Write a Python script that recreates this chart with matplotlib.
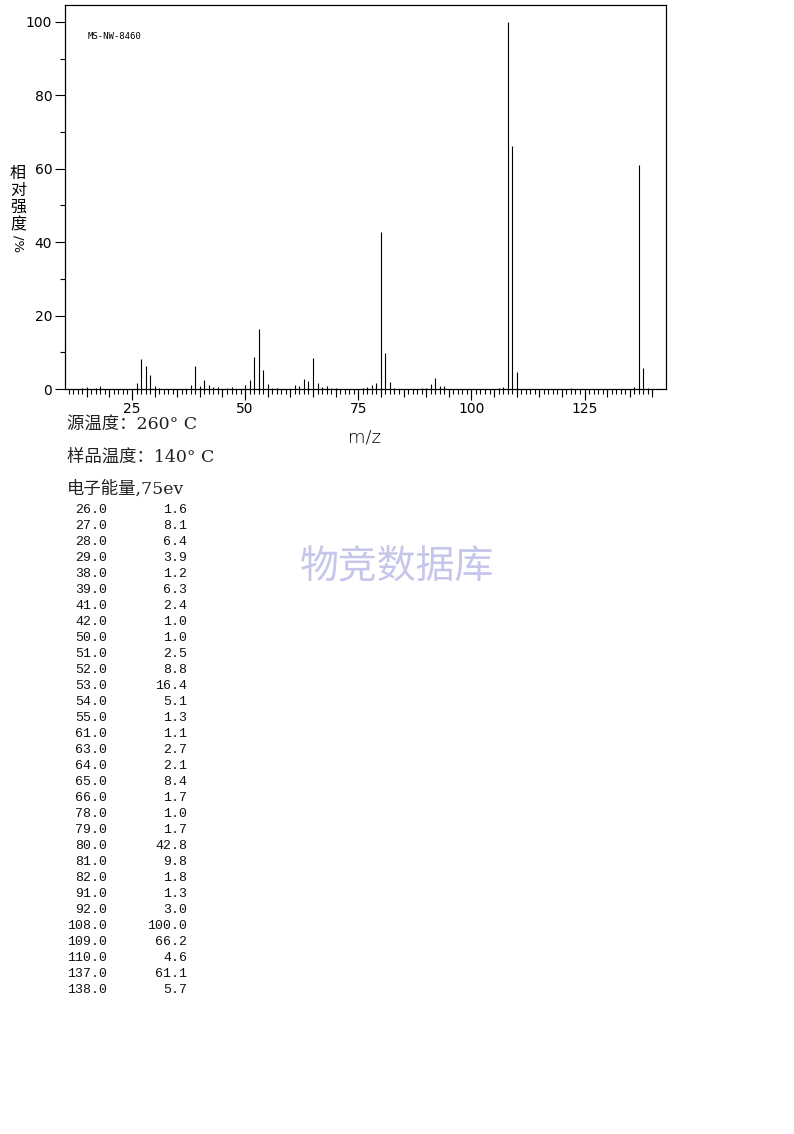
import matplotlib
matplotlib.use("Agg")
import matplotlib.pyplot as plt
import numpy as np

# listed peaks (m/z, relative intensity %)
mz = [26, 27, 28, 29, 38, 39, 41, 42, 50, 51, 52, 53, 54, 55, 61, 63, 64, 65, 66,
      78, 79, 80, 81, 82, 91, 92, 108, 109, 110, 137, 138]
intensity = [1.6, 8.1, 6.4, 3.9, 1.2, 6.3, 2.4, 1.0, 1.0, 2.5, 8.8, 16.4, 5.1, 1.3, 1.1,
             2.7, 2.1, 8.4, 1.7, 1.0, 1.7, 42.8, 9.8, 1.8, 1.3, 3.0, 100.0, 66.2, 4.6,
             61.1, 5.7]

# small unlisted peaks
minor_mz = [14, 15, 17, 18, 30, 31, 40, 43, 44, 46, 47, 56, 57, 62, 67, 68, 69, 70,
            76, 77, 83, 89, 90, 93, 94, 106, 107, 122, 136, 139]
minor_int = [0.4, 0.6, 0.4, 0.9, 0.9, 0.4, 0.9, 0.5, 0.5, 0.4, 0.6, 0.4, 0.4, 0.9, 0.6,
             0.9, 0.4, 0.4, 0.4, 0.6, 0.4, 0.4, 0.4, 0.9, 0.9, 0.4, 0.6, 0.4, 0.6, 0.4]

info_lines = ["源温度：260° C", "样品温度：140° C", "电子能量,75ev"]
sample_id = "MS-NW-8460"
watermark = "物竞数据库"

W, H = 794, 1134
fig = plt.figure(figsize=(W / 100, H / 100), dpi=100)


def fx(x):
    return x / W


def fy(y):
    return 1 - y / H


ax = fig.add_axes([fx(65), fy(389), fx(666) - fx(65), fy(5) - fy(389)])
ax.vlines(minor_mz, 0, minor_int, colors="black", linewidth=0.8)
ax.vlines(mz, 0, intensity, colors="black", linewidth=0.8)
ax.set_xlim(10.2, 143)
ax.set_ylim(0, 104.6)

for s in ax.spines.values():
    s.set_linewidth(0.9)

ax.set_xticks([25, 50, 75, 100, 125])
ax.set_xticks(np.arange(11, 141), minor=True)
ax.set_yticks([0, 20, 40, 60, 80, 100])
ax.set_yticks([10, 30, 50, 70, 90], minor=True)
ax.tick_params(axis="x", which="major", direction="out", length=7.6, width=0.8,
               labelsize=10, pad=2)
ax.tick_params(axis="x", which="minor", direction="out", length=3.6, width=0.8)
ax.tick_params(axis="y", which="major", direction="out", length=7.2, width=0.8,
               labelsize=10, pad=2)
ax.tick_params(axis="y", which="minor", direction="out", length=3.6, width=0.8)

# every-5 ticks, a bit longer than the unit ticks
sec = ax.secondary_xaxis("bottom")
sec.set_xticks(np.arange(15, 141, 5))
sec.tick_params(direction="out", length=5.4, width=0.8, labelbottom=False)
sec.spines["bottom"].set_visible(False)

ax.text(0.038, 0.919, sample_id, transform=ax.transAxes, fontsize=6.5,
        family="DejaVu Sans Mono", va="center", ha="left")

fig.text(fx(365), fy(437), "m/z", fontsize=13, ha="center", va="center",
         family="DejaVu Sans", fontweight="light")

cjk = ["Noto Sans CJK SC", "DejaVu Sans"]
fig.text(fx(18), fy(199), "相\n对\n强\n度", fontsize=11.5, ha="center", va="center",
         family=cjk, linespacing=1.0)
fig.text(fx(18), fy(244), "/%", fontsize=9.5, ha="center", va="center",
         rotation=270, family="DejaVu Sans")

serif_cjk = ["DejaVu Serif", "Noto Sans CJK SC"]
for i, line in enumerate(info_lines):
    fig.text(fx(67), fy(425 + 32 * i), line, fontsize=12.5, ha="left", va="center",
             family=serif_cjk, color="#222222")

for i, (m, v) in enumerate(zip(mz, intensity)):
    y = fy(510 + 16 * i)
    fig.text(fx(107), y, f"{m:.1f}", fontsize=9.5, ha="right", va="center",
             family="Liberation Mono", color="#111111")
    fig.text(fx(187), y, f"{v:.1f}", fontsize=9.5, ha="right", va="center",
             family="Liberation Mono", color="#111111")

fig.text(fx(397), fy(567), watermark, fontsize=28, ha="center", va="center",
         family=cjk, color="#c6c6ea")

fig.savefig("out.png", dpi=100)
